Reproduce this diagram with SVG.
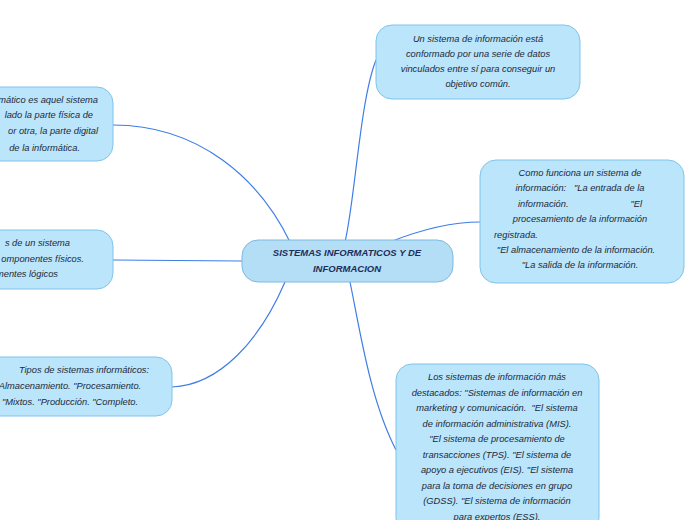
<svg xmlns="http://www.w3.org/2000/svg" width="696" height="520" viewBox="0 0 696 520">
<style>
.n{fill:#bae5fb;stroke:#7fc4ec;stroke-width:1}
.c{fill:#b4def5;stroke:#7fb8e0;stroke-width:1}
text{font-family:"Liberation Sans",sans-serif;font-style:italic;font-size:9.3px;fill:#1d2a3a;text-anchor:middle;white-space:pre}
.b{font-weight:bold;font-size:9.5px;fill:#1f2d5a}
.l{fill:none;stroke:#3e7de6;stroke-width:1.2}
</style>
<rect width="696" height="520" fill="#fff"/>
<g id="connectors">
<path class="l" d="M345,242 C355,200 360,100 376,60"/>
<path class="l" d="M390,242 C420,230 450,222 480,222"/>
<path class="l" d="M350,282 C360,330 370,400 396,450"/>
<path class="l" d="M290,242 C260,180 200,125 113,125"/>
<path class="l" d="M242,261 L113,260"/>
<path class="l" d="M285,282 C260,340 220,385 172,387"/>
</g>
<g id="center"><rect class="c" x="242" y="240" width="211" height="42" rx="16"/>
<text class="b" x="347" y="256">SISTEMAS INFORMATICOS Y DE</text><text class="b" x="347" y="272">INFORMACION</text></g>
<g id="n1"><rect class="n" x="376" y="25" width="204" height="74" rx="16"/>
<text x="478" y="42">Un sistema de información está</text><text x="478" y="57">conformado por una serie de datos</text><text x="478" y="72">vinculados entre sí para conseguir un</text><text x="478" y="87">objetivo común.</text></g>
<g id="n2"><rect class="n" x="480" y="160" width="204" height="123" rx="16"/>
<text x="580" y="176">Como funciona un sistema de</text><text x="580" y="191" xml:space="preserve">información:   "La entrada de la</text><text x="580" y="207" xml:space="preserve">información.                        "El</text><text x="580" y="222">procesamiento de la información</text><text x="494" y="238" style="text-anchor:start">registrada.</text><text x="576" y="253">"El almacenamiento de la información.</text><text x="580" y="268">"La salida de la información.</text></g>
<g id="n3"><rect class="n" x="396" y="364" width="203" height="170" rx="16"/>
<text x="497" y="380">Los sistemas de información más</text><text x="497" y="396">destacados: "Sistemas de información en</text><text x="497" y="411" xml:space="preserve">marketing y comunicación.  "El sistema</text><text x="497" y="427">de información administrativa (MIS).</text><text x="497" y="442">"El sistema de procesamiento de</text><text x="497" y="458">transacciones (TPS). "El sistema de</text><text x="497" y="473">apoyo a ejecutivos (EIS). "El sistema</text><text x="497" y="489">para la toma de decisiones en grupo</text><text x="497" y="504">(GDSS). "El sistema de información</text><text x="497" y="520">para expertos (ESS).</text></g>
<g id="n4"><rect class="n" x="-100" y="87" width="213" height="74" rx="16"/>
<text x="98" y="103" style="text-anchor:end">mático es aquel sistema</text><text x="93" y="118" style="text-anchor:end">lado la parte física de</text><text x="98" y="134" style="text-anchor:end">or otra, la parte digital</text><text x="80" y="151" style="text-anchor:end">de la informática.</text></g>
<g id="n5"><rect class="n" x="-100" y="230" width="213" height="59" rx="16"/>
<text x="70" y="246" style="text-anchor:end">s de un sistema</text><text x="84" y="262" style="text-anchor:end">omponentes físicos.</text><text x="58" y="277" style="text-anchor:end">mentes lógicos</text></g>
<g id="n6"><rect class="n" x="-100" y="357" width="272" height="59" rx="16"/>
<text x="84" y="373">Tipos de sistemas informáticos:</text><text x="70" y="389">Almacenamiento. "Procesamiento.</text><text x="70" y="405">"Mixtos. "Producción. "Completo.</text></g>
</svg>
